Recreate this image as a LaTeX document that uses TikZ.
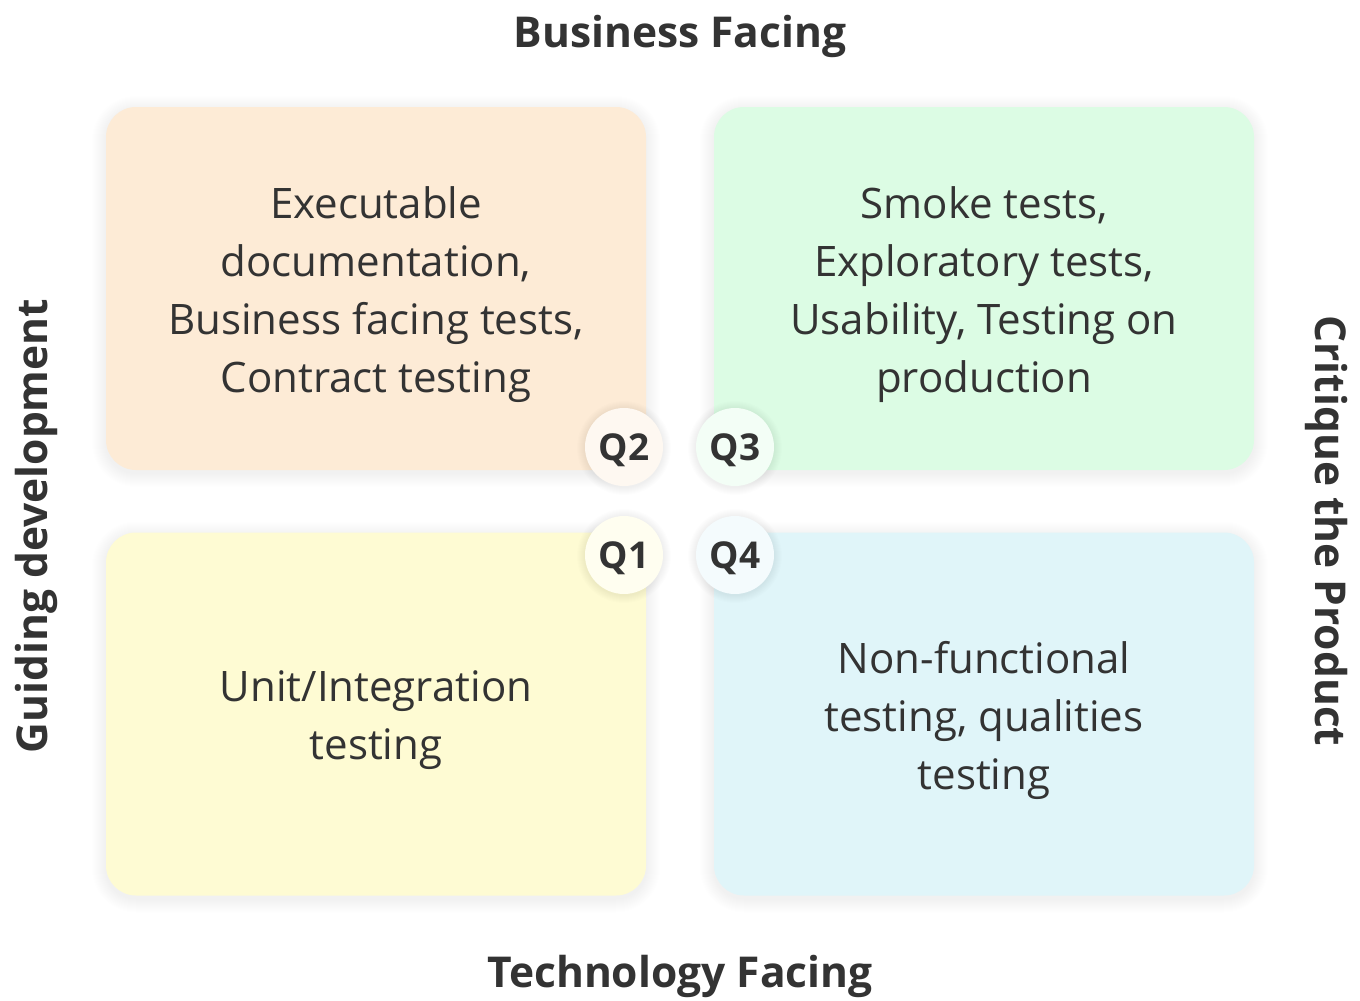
\documentclass[tikz,border=0pt]{standalone}
\usepackage{fontspec}
\setmainfont{Open Sans}
\newcommand{\w}{540pt}
\newcommand{\h}{363pt}
\definecolor{ink}{HTML}{333333}
\definecolor{peach}{HTML}{FDEBD6}
\definecolor{mint}{HTML}{DCFCE4}
\definecolor{lemon}{HTML}{FEFBD3}
\definecolor{sky}{HTML}{E0F5F9}

\begin{document}
\begin{tikzpicture}[x=1pt,y=-1pt,
    quad/.style={rectangle, rounded corners=30pt, minimum width=\w, minimum height=\h, inner sep=0pt},
    note/.style={align=center, text=ink, inner sep=0pt, yshift=-6pt, font=\fontsize{42}{58}\selectfont},
    badge/.style={circle, minimum size=78pt, inner sep=0pt},
    tag/.style={text=ink, inner sep=0pt, yshift=-3pt, font=\fontsize{37}{37}\bfseries\selectfont},
    glow/.style={fill=black, opacity=0.005},
    axis/.style={text=ink, font=\fontsize{42.5}{50}\bfseries\selectfont}]
    \useasboundingbox[fill=white] (0,0) rectangle (1360,1001);

    % Soft shadows under the quadrants
    \foreach \cx/\cy in {376/288.5, 984/288.5, 376/714, 984/714}
      \foreach \r in {1,...,14}
        \fill[glow, rounded corners=30pt+\r pt] (\cx-270-\r,\cy-181.5-\r+3) rectangle (\cx+270+\r,\cy+181.5+\r+3);

    % Quadrants
    \node[quad, fill=peach] (quad-2) at (376,288.5) {};
    \node[quad, fill=mint] (quad-3) at (984,288.5) {};
    \node[quad, fill=lemon] (quad-1) at (376,714) {};
    \node[quad, fill=sky] (quad-4) at (984,714) {};

    \node[note] (note-2) at (quad-2) {Executable\\documentation,\\Business facing tests,\\Contract testing};
    \node[note] (note-3) at (quad-3) {Smoke tests,\\Exploratory tests,\\Usability, Testing on\\production};
    \node[note] (note-1) at (quad-1) {Unit/Integration\\testing};
    \node[note] (note-4) at (quad-4) {Non-functional\\testing, qualities\\testing};

    % Soft shadows under the badges
    \foreach \cx/\cy in {624/447, 735/447, 624/555, 735/555}
      \foreach \r in {1,...,8}
        \fill[glow, opacity=0.007] (\cx,\cy+1) circle (39pt+\r pt);

    % Badges
    \node[badge, fill=peach!35!white] (badge-2) at (624,447) {};
    \node[badge, fill=mint!35!white] (badge-3) at (735,447) {};
    \node[badge, fill=lemon!35!white] (badge-1) at (624,555) {};
    \node[badge, fill=sky!35!white] (badge-4) at (735,555) {};

    \node[tag] (tag-2) at (badge-2) {Q2};
    \node[tag] (tag-3) at (badge-3) {Q3};
    \node[tag] (tag-1) at (badge-1) {Q1};
    \node[tag] (tag-4) at (badge-4) {Q4};

    % Axes
    \node[axis] (business) at (680,36) {Business Facing};
    \node[axis] (technology) at (680,976) {Technology Facing};
    \node[axis, rotate=90] (guiding) at (36,526) {Guiding development};
    \node[axis, rotate=-90] (critique) at (1327,531) {Critique the Product};

\end{tikzpicture}
\end{document}
